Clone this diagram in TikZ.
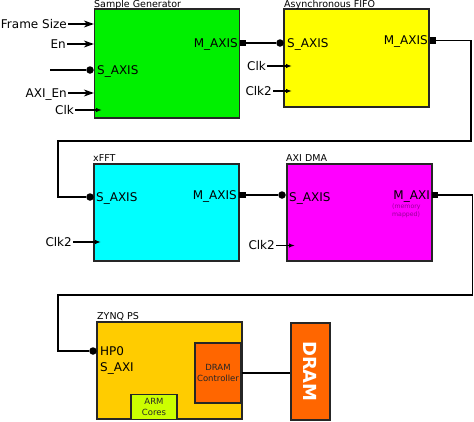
\documentclass[tikz,border=0pt]{standalone}
\usepackage{fontspec}
\setmainfont{DejaVu Sans}
\usetikzlibrary{arrows.meta}
\definecolor{sggreen}{RGB}{0,240,0}
\definecolor{fifoyellow}{RGB}{255,255,0}
\definecolor{fftcyan}{RGB}{0,255,255}
\definecolor{dmamagenta}{RGB}{255,0,255}
\definecolor{zynqorange}{RGB}{255,204,0}
\definecolor{dramorange}{RGB}{255,102,0}
\definecolor{armlime}{RGB}{204,255,0}
\definecolor{memtext}{RGB}{150,0,150}

\begin{document}
\begin{tikzpicture}[x=1pt,y=-1pt]
		\tikzset{block/.style = {draw=black!85, line width=1.2pt, inner sep=0pt}}
		\tikzset{title/.style = {anchor=base west, inner sep=0pt, font=\fontsize{9.5}{11}\selectfont}}
		\tikzset{port/.style = {inner sep=1pt, text height=8.7pt, text depth=0pt, font=\fontsize{12}{14}\selectfont}}
		\tikzset{sport/.style = {shape=circle, fill=black, inner sep=0pt, minimum size=7.5pt}}
		\tikzset{mport/.style = {shape=rectangle, fill=black, inner sep=0pt, minimum size=6.5pt}}
		\tikzset{wire/.style = {line width=1.6pt}}
		\tikzset{sig/.style = {line width=1.2pt, -{Stealth[length=10pt,width=7pt,inset=3pt]}}}
		\tikzset{clk/.style = {line width=1.2pt, -{Latex[length=6pt,width=4.5pt]}}}

		\useasboundingbox (0,0) rectangle (474,421);

		% blocks
		\node[block, fill=sggreen, minimum width=145pt, minimum height=109pt] (sg) at (167,63.5) {};
		\node[block, fill=fifoyellow, minimum width=145pt, minimum height=98pt] (fifo) at (356.5,58) {};
		\node[block, fill=fftcyan, minimum width=145pt, minimum height=97pt] (fft) at (166.5,212.5) {};
		\node[block, fill=dmamagenta, minimum width=145pt, minimum height=97pt] (dma) at (359.5,212.5) {};
		\node[block, fill=zynqorange, minimum width=145pt, minimum height=97pt] (zynq) at (169.5,370.5) {};
		\node[block, fill=dramorange, minimum width=46pt, minimum height=60pt, align=center,
			font=\fontsize{8.5}{11}\selectfont, text=black!85] (ctrl) at (218,373) {DRAM\\Controller};
		\node[block, fill=armlime, minimum width=46pt, minimum height=25pt, align=center,
			font=\fontsize{8.5}{10.5}\selectfont, text=black!85] (arm) at (154,407) {ARM\\Cores};
		\node[block, fill=dramorange, minimum width=39pt, minimum height=97pt,
			text=white, font=\bfseries\fontsize{18}{20}\selectfont] (dram) at (310.5,371.5) {\rotatebox{-90}{DRAM}};

		\node[title] (sgT) at (94,7) {Sample Generator};
		\node[title] (fifoT) at (284,7) {Asynchronous FIFO};
		\node[title] (fftT) at (93,161.5) {xFFT};
		\node[title] (dmaT) at (286,161.5) {AXI DMA};
		\node[title] (zynqT) at (97,319.5) {ZYNQ PS};

		% ports
		\node[mport] (sgM) at (243,43) {};
		\node[sport] (sgS) at (90,70) {};
		\node[sport] (fifoS) at (280,43) {};
		\node[mport] (fifoM) at (433,40.5) {};
		\node[sport] (fftS) at (90,197) {};
		\node[mport] (fftM) at (242.5,195) {};
		\node[sport] (dmaS) at (282,195) {};
		\node[mport] (dmaM) at (435,195) {};
		\node[sport] (zynqS) at (93,351) {};

		\node[port, anchor=east] at (239,43) {M\_AXIS};
		\node[port, anchor=west] at (96,70) {S\_AXIS};
		\node[port, anchor=west] at (286,43) {S\_AXIS};
		\node[port, anchor=east] at (429,40.5) {M\_AXIS};
		\node[port, anchor=west] at (95,197) {S\_AXIS};
		\node[port, anchor=east] at (238,195) {M\_AXIS};
		\node[port, anchor=west] at (288,197) {S\_AXIS};
		\node[port, anchor=east] at (431,195) {M\_AXI};
		\node[anchor=north west, inner sep=0pt, align=left, text=memtext,
			font=\fontsize{6.2}{7.5}\selectfont] (memT) at (392,204) {(memory\\mapped)};
		\node[port, anchor=north west, text height=, align=left, inner sep=0pt,
			font=\fontsize{12}{16}\selectfont] (hp) at (100,346) {HP0\\S\_AXI};

		% inputs
		\node[port, anchor=east] (sgFs) at (68,24) {Frame Size};
		\node[port, anchor=east] (sgEn) at (67,44) {En};
		\coordinate (sgIn) at (50,70);
		\node[port, anchor=east] (sgAen) at (68,93) {AXI\_En};
		\node[port, anchor=east] (sgClk) at (75,110) {Clk};
		\coordinate (sgClkE) at (102,110);
		\node[port, anchor=east] (fifoClk) at (267,66) {Clk};
		\coordinate (fifoClkE) at (292,66);
		\node[port, anchor=east] (fifoClkb) at (273,91) {Clk2};
		\coordinate (fifoClkbE) at (292,91);
		\node[port, anchor=east] (fftClk) at (73,242) {Clk2};
		\coordinate (fftClkE) at (101,242);
		\node[port, anchor=east] (dmaClk) at (276,245.5) {Clk2};
		\coordinate (dmaClkE) at (295,245.5);

		\draw[sig] (sgFs) to (sgFs -| sg.west);
		\draw[sig] (sgEn) to (sgEn -| sg.west);
		\draw[sig] (sgAen) to (sgAen -| sg.west);
		\draw[wire] (sgIn) to (sgS);
		\draw[clk] (sgClk) to (sgClkE);
		\draw[clk] (fifoClk) to (fifoClkE);
		\draw[clk] (fifoClkb) to (fifoClkbE);
		\draw[clk] (fftClk) to (fftClkE);
		\draw[clk] (dmaClk) to (dmaClkE);

		% streams
		\coordinate (b1) at (471,40.5);
		\coordinate (b2) at (471,141);
		\coordinate (b3) at (58,141);
		\coordinate (b4) at (58,197);
		\coordinate (c1) at (472.5,195);
		\coordinate (c2) at (472.5,295);
		\coordinate (c3) at (58,295);
		\coordinate (c4) at (58,351);

		\draw[wire] (sgM) to (fifoS);
		\draw[wire] (fifoM) -- (b1) -- (b2) -- (b3) -- (b4) -- (fftS);
		\draw[wire] (fftM) to (dmaS);
		\draw[wire] (dmaM) -- (c1) -- (c2) -- (c3) -- (c4) -- (zynqS);
		\draw[wire] (ctrl.east) to (ctrl.east -| dram.west);

	\end{tikzpicture}
\end{document}
